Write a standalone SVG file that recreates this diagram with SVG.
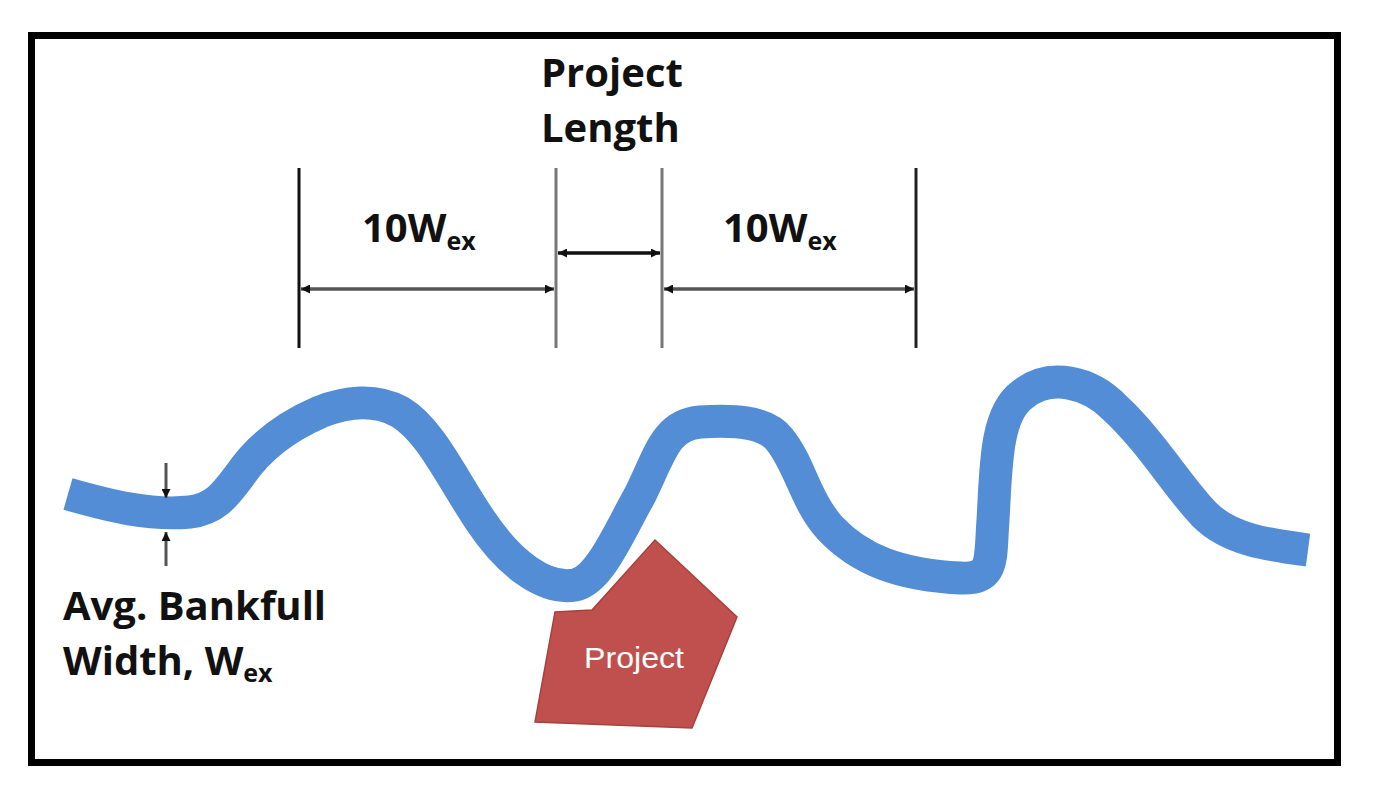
<svg xmlns="http://www.w3.org/2000/svg" width="1380" height="798" viewBox="0 0 1380 798">
<style>
.lbl{font-family:"Open Sans","Liberation Sans",sans-serif;font-weight:bold;fill:#111;}
.big{font-size:40px;}
.sub{font-size:25px;}
.ext{stroke-width:3;fill:none;}
.dim{stroke-width:3.5;fill:none;marker-start:url(#ah);marker-end:url(#ah);}
</style>
<defs>
<marker id="ah" viewBox="0 0 10 10" refX="10" refY="5" markerWidth="9" markerHeight="9" markerUnits="userSpaceOnUse" orient="auto-start-reverse">
<path d="M0,0 L10,5 L0,10 z" fill="#111"/>
</marker>
</defs>
<rect x="0" y="0" width="1380" height="798" fill="#fff"/>
<rect id="frame" x="31.5" y="35.5" width="1306" height="727" fill="none" stroke="#000" stroke-width="7"/>

<g id="project">
<polygon points="555,612 592,610 655,540 737,617 692,728 535,722" fill="#C0504D" stroke="#A8403D" stroke-width="1.5"/>
<text x="634" y="668" text-anchor="middle" font-family="Liberation Sans Narrow,Liberation Sans,sans-serif" font-size="29" fill="#fff" textLength="100" lengthAdjust="spacingAndGlyphs">Project</text>
</g>

<g id="river">
<path d="M68,494 C110,506 150,516 190,512 C215,509 225,495 240,475 C260,445 290,425 320,412 C345,402 375,398 400,412 C430,430 450,475 480,520 C510,565 545,590 575,585 C600,580 620,530 640,495 C660,455 665,425 700,422 C730,420 765,420 780,440 C800,465 805,500 830,528 C860,560 900,575 960,578 C995,580 990,560 993,520 C996,470 995,415 1022,395 C1050,372 1090,382 1115,408 C1150,440 1180,490 1205,515 C1230,540 1270,545 1308,550" fill="none" stroke="#538DD5" stroke-width="33"/>
</g>

<g id="connectors">
<line class="ext" x1="299" y1="168" x2="299" y2="348" stroke="#111"/>
<line class="ext" x1="556" y1="168" x2="556" y2="348" stroke="#777"/>
<line class="ext" x1="662" y1="168" x2="662" y2="348" stroke="#777"/>
<line class="ext" x1="916" y1="168" x2="916" y2="348" stroke="#222"/>
<line class="dim" x1="301" y1="289" x2="554" y2="289" stroke="#555"/>
<line class="dim" x1="558" y1="253" x2="660" y2="253" stroke="#111"/>
<line class="dim" x1="664" y1="289" x2="914" y2="289" stroke="#555"/>
<line x1="166" y1="463" x2="166" y2="498" stroke="#555" stroke-width="3" marker-end="url(#ah)"/>
<line x1="166" y1="566" x2="166" y2="532" stroke="#555" stroke-width="3" marker-end="url(#ah)"/>
</g>

<g id="title">
<text class="lbl big" x="541" y="87">Project</text>
<text class="lbl big" x="541" y="142">Length</text>
</g>
<g id="left-dim-label">
<text class="lbl" x="362" y="242"><tspan class="big">10W</tspan><tspan class="sub" dy="8">ex</tspan></text>
</g>
<g id="right-dim-label">
<text class="lbl" x="723" y="242"><tspan class="big">10W</tspan><tspan class="sub" dy="8">ex</tspan></text>
</g>
<g id="width-label">
<text class="lbl big" x="63" y="620">Avg. Bankfull</text>
<text class="lbl" x="63" y="675"><tspan class="big">Width, W</tspan><tspan class="sub" dy="7">ex</tspan></text>
</g>
</svg>
